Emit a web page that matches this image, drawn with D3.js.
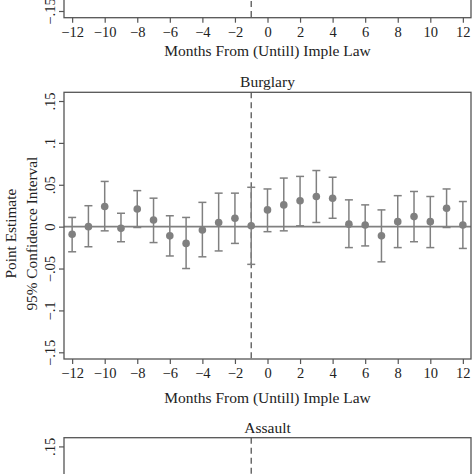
<!DOCTYPE html>
<html>
<head>
<meta charset="utf-8">
<script src="https://cdn.jsdelivr.net/npm/d3@7"></script>
<style>
  body { margin: 0; background: #fff; }
  svg { display: block; font-family: "Liberation Serif", "Times New Roman", serif; }
</style>
</head>
<body>
<svg id="chart" width="474" height="474"></svg>
<script>
// months from (until) implementation
var months = [-12, -11, -10, -9, -8, -7, -6, -5, -4, -3, -2, -1, 0, 1, 2, 3, 4, 5, 6, 7, 8, 9, 10, 11, 12];

// burglary point estimates and 95% CI
var burglaryEst = [-0.009, 0.000, 0.024, -0.002, 0.021, 0.008, -0.011, -0.020, -0.004, 0.005, 0.010, 0.001,
                   0.020, 0.026, 0.031, 0.036, 0.034, 0.003, 0.002, -0.011, 0.006, 0.012, 0.006, 0.022, 0.002];
var burglaryLo = [-0.030, -0.024, -0.005, -0.018, -0.001, -0.019, -0.035, -0.050, -0.036, -0.029, -0.020, -0.045,
                  -0.006, -0.005, 0.001, 0.005, 0.010, -0.025, -0.023, -0.042, -0.025, -0.018, -0.025, -0.001, -0.026];
var burglaryHi = [0.011, 0.025, 0.054, 0.016, 0.043, 0.034, 0.013, 0.011, 0.029, 0.040, 0.040, 0.047,
                  0.045, 0.058, 0.060, 0.067, 0.059, 0.032, 0.026, 0.020, 0.037, 0.042, 0.036, 0.045, 0.030];

var xTicks = [-12, -10, -8, -6, -4, -2, 0, 2, 4, 6, 8, 10, 12];
var xTickLabels = ["\u221212", "\u221210", "\u22128", "\u22126", "\u22124", "\u22122", "0", "2", "4", "6", "8", "10", "12"];
var yTicks = [0.15, 0.1, 0.05, 0, -0.05, -0.1, -0.15];
var yTickLabels = [".15", ".1", ".05", "0", "\u2212.05", "\u2212.1", "\u2212.15"];

var panelTitles = ["", "Burglary", "Assault"];
var eventMonth = -1;

// layout (panels only partly fit in the window)
var panelTops = [-249, 92.3, 437.7];
var xTitleGaps = [38, 44, 44];
var panelHeight = 266.7;
var left = 64, right = 471;
var capWidth = 8;
var frameColor = "#555";
var markColor = "#808080";

var svg = d3.select("#chart");

var x = d3.scaleLinear().domain([-12.5, 12.5]).range([left, right]);

function burglaryRows() {
  var rows = [];
  for (var i = 0; i < months.length; i++) {
    rows.push({ m: months[i], est: burglaryEst[i], lo: burglaryLo[i], hi: burglaryHi[i] });
  }
  return rows;
}

function drawPanel(idx, rows) {
  var top = panelTops[idx];
  var bottom = top + panelHeight;
  var y = d3.scaleLinear().domain([-0.158, 0.1604]).range([bottom, top]);
  var g = svg.append("g");

  //title
  g.append("text")
    .attr("x", (left + right) / 2)
    .attr("y", top - 5)
    .attr("text-anchor", "middle")
    .attr("font-size", 15.5)
    .attr("fill", "#222")
    .text(panelTitles[idx]);

  //zero line
  g.append("line")
    .attr("x1", left).attr("x2", right)
    .attr("y1", y(0)).attr("y2", y(0))
    .attr("stroke", markColor)
    .attr("stroke-width", 1.6);

  //frame
  g.append("rect")
    .attr("x", left).attr("y", top)
    .attr("width", right - left).attr("height", panelHeight)
    .attr("fill", "none")
    .attr("stroke", frameColor)
    .attr("stroke-width", 1.3);

  //event line
  g.append("line")
    .attr("x1", x(eventMonth)).attr("x2", x(eventMonth))
    .attr("y1", top).attr("y2", bottom)
    .attr("stroke", frameColor)
    .attr("stroke-width", 1.3)
    .attr("stroke-dasharray", "6,4");

  //x axis
  var xAxis = d3.axisBottom(x)
    .tickValues(xTicks)
    .tickSize(5)
    .tickPadding(4)
    .tickFormat(function(d, i) { return xTickLabels[i]; });
  var xa = g.append("g")
    .attr("transform", "translate(0," + bottom + ")")
    .call(xAxis);
  xa.select(".domain").remove();
  xa.selectAll("line").attr("stroke", frameColor).attr("stroke-width", 1.2);
  xa.selectAll("text")
    .attr("font-family", "Liberation Serif")
    .attr("font-size", 14.5)
    .attr("fill", "#222");

  //y axis, rotated labels
  var yAxis = d3.axisLeft(y)
    .tickValues(yTicks)
    .tickSize(5)
    .tickFormat(function(d, i) { return yTickLabels[i]; });
  var ya = g.append("g")
    .attr("transform", "translate(" + left + ",0)")
    .call(yAxis);
  ya.select(".domain").remove();
  ya.selectAll("line").attr("stroke", frameColor).attr("stroke-width", 1.2);
  ya.selectAll("text")
    .attr("transform", "rotate(-90)")
    .attr("x", 0)
    .attr("y", -9)
    .attr("dy", 0)
    .attr("text-anchor", "middle")
    .attr("font-family", "Liberation Serif")
    .attr("font-size", 14.5)
    .attr("fill", "#222");

  //y title
  var cy = (top + bottom) / 2 + 8;
  g.append("text")
    .attr("transform", "translate(16," + cy + ") rotate(-90)")
    .attr("text-anchor", "middle")
    .attr("font-size", 15.3)
    .attr("fill", "#222")
    .text("Point Estimate");
  g.append("text")
    .attr("transform", "translate(37," + cy + ") rotate(-90)")
    .attr("text-anchor", "middle")
    .attr("font-size", 15.3)
    .attr("fill", "#222")
    .text("95% Confidence Interval");

  //x title
  g.append("text")
    .attr("x", (left + right) / 2)
    .attr("y", bottom + xTitleGaps[idx])
    .attr("text-anchor", "middle")
    .attr("font-size", 15.5)
    .attr("fill", "#222")
    .text("Months From (Untill) Imple Law");

  if (!rows.length) return;

  //CI bars
  g.selectAll(".ci").data(rows).enter()
    .append("line")
    .attr("class", "ci")
    .attr("x1", function(d) { return x(d.m); })
    .attr("x2", function(d) { return x(d.m); })
    .attr("y1", function(d) { return y(d.lo); })
    .attr("y2", function(d) { return y(d.hi); })
    .attr("stroke", markColor)
    .attr("stroke-width", 1.5);

  //caps
  g.selectAll(".capHi").data(rows).enter()
    .append("line")
    .attr("class", "capHi")
    .attr("x1", function(d) { return x(d.m) - capWidth / 2; })
    .attr("x2", function(d) { return x(d.m) + capWidth / 2; })
    .attr("y1", function(d) { return y(d.hi); })
    .attr("y2", function(d) { return y(d.hi); })
    .attr("stroke", markColor)
    .attr("stroke-width", 1.5);
  g.selectAll(".capLo").data(rows).enter()
    .append("line")
    .attr("class", "capLo")
    .attr("x1", function(d) { return x(d.m) - capWidth / 2; })
    .attr("x2", function(d) { return x(d.m) + capWidth / 2; })
    .attr("y1", function(d) { return y(d.lo); })
    .attr("y2", function(d) { return y(d.lo); })
    .attr("stroke", markColor)
    .attr("stroke-width", 1.5);

  //points
  g.selectAll(".pt").data(rows).enter()
    .append("circle")
    .attr("class", "pt")
    .attr("cx", function(d) { return x(d.m); })
    .attr("cy", function(d) { return y(d.est); })
    .attr("r", 3.8)
    .attr("fill", markColor);
}

drawPanel(0, []);
drawPanel(1, burglaryRows());
drawPanel(2, []);

//drop texts of the outer panels that fall completely outside the window
svg.selectAll("text").each(function() {
  var b = this.getBoundingClientRect();
  if (b.bottom <= 0 || b.top >= 474 || b.right <= 0 || b.left >= 474) d3.select(this).remove();
});
</script>
</body>
</html>
